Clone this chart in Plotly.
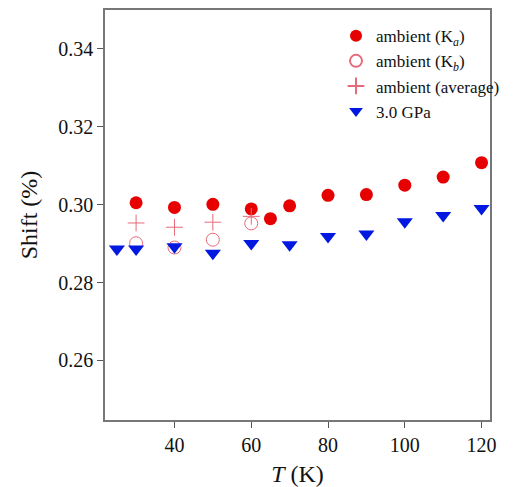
import plotly.graph_objects as go

T_ka = [30, 40, 50, 60, 65, 70, 80, 90, 100, 110, 120]
ka = [0.3005, 0.2993, 0.3001, 0.2989, 0.2964, 0.2997, 0.3024, 0.3026, 0.3050, 0.3071, 0.3108]
T_kb = [30, 40, 50, 60]
kb = [0.2901, 0.2890, 0.2910, 0.2952]
avg = [0.2953, 0.2942, 0.2955, 0.2970]
T_p = [25, 30, 40, 50, 60, 70, 80, 90, 100, 110, 120]
p3 = [0.2886, 0.2886, 0.2892, 0.2875, 0.2900, 0.2897, 0.2918, 0.2925, 0.2956, 0.2972, 0.2990]

fig = go.Figure()
fig.add_trace(go.Scatter(x=T_ka, y=ka, mode="markers", name="ambient (K<sub><i>a</i></sub>)",
                         marker=dict(symbol="circle", size=13, color="#e60000")))
fig.add_trace(go.Scatter(x=T_kb, y=kb, mode="markers", name="ambient (K<sub><i>b</i></sub>)",
                         marker=dict(symbol="circle-open", size=13, color="#e86a7a", line=dict(width=1))))
fig.add_trace(go.Scatter(x=T_kb, y=avg, mode="markers", name="ambient (average)",
                         marker=dict(symbol="cross-thin-open", size=12, color="#e86a7a", line=dict(width=1))))
fig.add_trace(go.Scatter(x=T_p, y=p3, mode="markers", name="3.0 GPa",
                         marker=dict(symbol="triangle-down", size=14, color="#0018e0")))

ax = dict(showline=True, linecolor="#777", linewidth=1.5, mirror=True, ticks="outside",
          ticklen=6, tickcolor="#555", showgrid=False, zeroline=False)
fig.update_layout(
    width=512, height=479, plot_bgcolor="white", paper_bgcolor="white",
    font=dict(family="Liberation Serif", size=20, color="#111"),
    margin=dict(l=97, r=30, t=0, b=57),
    xaxis=dict(**ax, range=[21.9, 122.2], tickvals=[40, 60, 80, 100, 120],
               title=dict(text="<i>T</i> (K)", standoff=14)),
    yaxis=dict(**ax, range=[0.2447, 0.35], tickvals=[0.26, 0.28, 0.30, 0.32, 0.34],
               tickformat=".2f", title=dict(text="Shift (%)", standoff=14)),
    legend=dict(x=0.6, y=0.98, xanchor="left", yanchor="top", bgcolor="rgba(0,0,0,0)",
                font=dict(size=17), itemsizing="constant", tracegroupgap=0),
    showlegend=True,
)
fig.write_html("out.html")
